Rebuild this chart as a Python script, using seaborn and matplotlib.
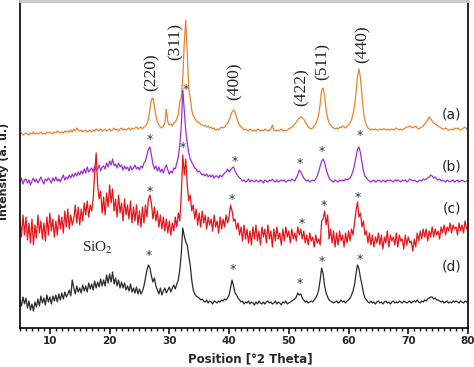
import matplotlib
matplotlib.use("Agg")
import matplotlib.pyplot as plt
import numpy as np
import pandas as pd
import seaborn as sns

# 2-theta grid, 0.25 deg step from 5 to 80
two_theta = [5 + 0.25 * i for i in range(301)]

# intensities (a.u.), relative to each pattern's baseline
intensity_a = [
    -6, -5, -7, -6, -5, -6, -7, -5, -6, -4, -6, -5, -6, -5, -4, -6, -5, -6, -4, -5,
    -4, -5, -6, -4, -5, -3, -4, -5, -4, -5, -3, -4, -3, -4, -2, -4, -1, -3, 0, -2,
    -3, -2, -4, -3, -2, -4, -3, -2, -4, -2, -3, -1, -2, -3, -1, -3, -2, -1, -3, -2,
    -1, -3, -2, 0, -2, -1, -3, -1, 0, -2, -1, -2, -1, 0, -2, 0, -1, 0, 1, -1,
    0, 1, -1, 1, 2, 4, 9, 19, 28, 30, 22, 12, 6, 3, 1, 0, 2, 5, 19, 6,
    3, 4, 2, 5, 6, 9, 14, 26, 30, 50, 85, 108, 75, 40, 30, 18, 12, 10, 7, 6,
    5, 4, 3, 2, 3, 1, 2, 0, 1, -1, 0, -2, -1, -2, 0, 1, 0, 1, 3, 5,
    8, 12, 16, 18, 16, 11, 6, 3, 1, 0, -2, -1, -2, -3, -1, -2, -3, -2, -3, -1,
    -2, -3, -2, -3, -1, -2, -3, -2, -1, 3, -2, -3, -2, -3, -2, -1, -3, -2, -3, -2,
    -1, 0, 1, 2, 4, 6, 8, 10, 11, 10, 9, 6, 4, 1, 0, -1, 0, 2, 4, 8,
    13, 24, 38, 40, 32, 18, 10, 5, 3, 1, 0, -1, 0, -1, 1, 0, 2, 1, 0, 2,
    3, 5, 8, 14, 22, 35, 52, 59, 50, 32, 16, 7, 3, 0, -1, -2, -1, -2, -1, -2,
    -2, -1, -2, -1, -1, -2, -1, -2, -2, -1, -2, -1, 0, -1, -2, -1, -2, -1, 0, 1,
    1, 2, 1, 0, 1, 2, 0, -1, 0, 1, 2, 4, 6, 8, 11, 9, 7, 5, 4, 3,
    2, 1, 0, -1, -1, 0, -1, -2, -2, -1, -2, 0, -1, 0, -1, -2, -1, 0, 1, -1,
    0,
]

intensity_b = [
    -1, 3, -3, 1, 2, -2, 1, -4, 0, 3, -1, 2, -2, 1, 4, 0, -3, 2, 0, 3,
    1, -2, 3, 0, 4, 0, 2, -1, 3, 6, 1, 4, 2, 6, 3, 7, 4, 8, 5, 9,
    6, 10, 7, 12, 8, 14, 9, 11, 13, 9, 15, 11, 12, 16, 10, 14, 15, 12, 18, 14,
    20, 16, 22, 15, 17, 13, 18, 14, 16, 11, 15, 12, 14, 10, 15, 11, 13, 16, 12, 14,
    11, 15, 13, 18, 20, 26, 32, 34, 26, 17, 12, 15, 10, 14, 9, 12, 8, 13, 16, 11,
    7, 10, 8, 13, 12, 18, 24, 36, 55, 91, 70, 50, 38, 28, 22, 19, 16, 13, 12, 9,
    10, 8, 6, 7, 5, 7, 4, 6, 4, 6, 3, 5, 5, 3, 6, 4, 6, 8, 9, 12,
    9, 11, 13, 14, 10, 7, 5, 3, 2, 0, 1, -1, 0, 2, -1, 1, 0, -1, 1, 0,
    -1, 1, 0, -2, 1, 0, -1, 1, 0, 2, 0, -1, 1, -1, 0, 1, 0, 1, -1, 0,
    1, 0, 2, 1, 0, 3, 6, 11, 9, 6, 3, 1, 0, 1, -1, 0, 1, 0, 2, 5,
    9, 15, 20, 22, 18, 12, 7, 3, 1, 0, -1, 1, 0, -1, 1, 0, 1, 0, 2, 1,
    2, 3, 6, 10, 16, 24, 32, 34, 28, 18, 10, 5, 3, 1, 0, -1, 0, 1, -1, 0,
    1, 0, -1, 1, 0, -1, 1, 0, 1, 0, -1, 1, 0, 1, 0, -1, 1, 0, 1, -1,
    0, 2, 1, 0, 1, 0, -1, 0, 1, 0, 2, 1, 2, 3, 4, 6, 5, 3, 4, 2,
    1, 2, 0, 1, 0, -1, 1, 0, -1, 0, 1, -1, 0, 1, -1, 0, 1, 0, -1, 0,
    0,
]

intensity_c = [
    15, -2, 20, 0, 18, -5, 12, -8, 16, -10, 10, -3, 20, 2, 14, -4, 12, -6, 18, 0,
    22, 4, 16, -2, 14, 0, 20, 6, 18, 2, 24, 8, 26, 6, 20, 10, 16, 30, 12, 28,
    10, 26, 14, 32, 20, 34, 18, 30, 24, 36, 62, 82, 50, 36, 44, 22, 38, 20, 42, 28,
    50, 32, 46, 24, 36, 18, 40, 22, 32, 14, 36, 20, 30, 16, 34, 12, 28, 14, 30, 10,
    24, 8, 28, 12, 30, 18, 36, 40, 32, 16, 28, 14, 24, 8, 20, 6, 18, 4, 16, 2,
    14, 0, 12, 4, 18, 8, 22, 14, 40, 80, 60, 76, 50, 34, 40, 24, 30, 16, 26, 10,
    22, 8, 24, 12, 20, 6, 18, 10, 16, 4, 20, 8, 14, 2, 18, 6, 16, 8, 20, 12,
    18, 30, 24, 14, 16, 6, 12, 0, 8, -6, 10, -4, 6, -8, 4, -10, 8, -4, 10, -6,
    4, -10, 8, -2, 6, -8, 10, -4, 4, -12, 6, -6, 8, -4, 2, -10, 6, -6, 8, -2,
    4, -8, 6, -4, 2, -6, 8, 0, 6, -4, 4, -8, 0, -10, 2, -6, -2, -12, 0, -8,
    -4, -10, 14, 16, 24, 10, 20, -4, 6, -8, 4, -12, 2, -10, 4, -6, 0, -12, 2, -8,
    4, -6, 6, 0, 12, 24, 33, 18, 22, 8, 14, 0, 4, -8, 2, -10, 0, -12, -2, -8,
    2, -10, 0, -14, -2, -8, 4, -12, 0, -6, -2, -10, 2, -12, 0, -6, -4, -14, 0, -10,
    -2, -8, -6, -16, -4, -12, 2, -6, 4, -4, 6, -2, 6, -6, 4, -2, 8, -2, 6, 0,
    4, -4, 8, 2, 10, 0, 8, 4, 12, 2, 10, 6, 8, 0, 12, 4, 10, 2, 14, 6,
    8,
]

intensity_d = [
    2, -4, 5, -2, 4, -6, 1, -8, -2, -9, 0, -5, 3, -4, 6, -1, 4, -3, 7, 0,
    5, -2, 6, 1, 7, 0, 8, 2, 9, 3, 10, 5, 8, 12, 6, 22, 14, 8, 16, 10,
    14, 9, 17, 11, 16, 10, 19, 13, 18, 12, 21, 14, 20, 15, 23, 16, 22, 16, 27, 19,
    28, 20, 30, 18, 24, 16, 22, 14, 20, 14, 19, 12, 16, 11, 18, 10, 14, 9, 15, 8,
    13, 8, 11, 16, 24, 32, 37, 34, 26, 20, 24, 16, 12, 8, 14, 7, 11, 14, 9, 12,
    15, 10, 14, 17, 13, 18, 22, 32, 48, 74, 66, 60, 57, 46, 37, 22, 12, 8, 6, 5,
    4, 2, 3, 1, 0, 2, -1, 1, 0, -2, 1, 0, -1, 1, 0, 2, 1, 3, 2, 4,
    7, 14, 22, 16, 9, 7, 4, 2, 0, 1, -2, 0, -1, 1, -2, 0, -1, -3, 0, -2,
    1, -1, -2, 0, -2, 0, 1, -1, 0, -2, -1, 1, -2, 0, -1, -3, 0, -1, 1, -2,
    -1, 0, 1, 2, 3, 5, 9, 7, 8, 4, 2, 0, 1, -1, 0, 1, 0, 2, 4, 7,
    12, 22, 34, 28, 16, 9, 5, 2, 1, 0, -1, 0, 1, -1, 0, 2, 0, 1, -1, 1,
    2, 4, 7, 11, 17, 28, 37, 33, 24, 17, 9, 4, 2, 0, -1, 1, -1, 0, -2, 0,
    1, -1, 0, -2, 0, 1, -1, 0, -2, 0, 1, -1, 0, -1, 1, 0, -1, 1, 0, -1,
    0, 1, -1, 0, 1, 0, 2, 0, -1, 1, 0, 2, 1, 3, 4, 5, 5, 3, 4, 2,
    2, 1, 0, 1, -1, 0, 1, -1, 0, -1, 1, 0, 1, 0, -1, 1, 0, -1, 1, 0,
    0,
]

samples = ["(a)", "(b)", "(c)", "(d)"]
offsets = [200, 147, 93, 26]
colors = ["#e8842e", "#9b2fd6", "#e3161b", "#2b2b2b"]

hkl_labels = ["(220)", "(311)", "(400)", "(422)", "(511)", "(440)"]
hkl_pos = [(27.1, 256), (31.0, 286), (41.0, 247), (52.2, 241), (55.7, 266), (62.3, 284)]

star_pos = [
    (32.8, 240),
    (26.8, 191), (32.2, 183), (40.9, 169), (51.9, 167), (55.6, 178), (61.8, 195),
    (26.8, 138), (40.5, 131), (52.2, 106), (55.8, 124), (61.6, 133),
    (26.5, 74), (40.6, 60), (51.8, 46), (55.6, 68), (61.8, 71),
]

frames = []
for name, vals, off in zip(samples, [intensity_a, intensity_b, intensity_c, intensity_d], offsets):
    assert len(vals) == len(two_theta)
    frames.append(pd.DataFrame({"two_theta": two_theta,
                                "shifted": np.array(vals) + off,
                                "sample": name}))
df = pd.concat(frames, ignore_index=True)

sns.set_theme(style="ticks")
plt.rcParams["font.family"] = ["DejaVu Sans"]
plt.rcParams["font.serif"] = ["Liberation Serif", "DejaVu Serif"]
plt.rcParams["mathtext.fontset"] = "stix"

fig = plt.figure(figsize=(4.74, 3.67), dpi=100)
ax = fig.add_axes([20 / 474, 39 / 367, 448 / 474, 327 / 367])

sns.lineplot(data=df, x="two_theta", y="shifted", hue="sample", palette=colors,
             linewidth=0.9, legend=False, estimator=None, sort=False, ax=ax)

ax.set_xlim(5, 80)
ax.set_ylim(0, 327)
ax.set_yticks([])
ax.set_xticks(range(10, 81, 10))
ax.set_xticks(range(5, 81), minor=True)
ax.tick_params(axis="x", which="major", direction="out", length=4, width=1.1,
               labelsize=7.5, pad=2, color="black")
ax.tick_params(axis="x", which="minor", direction="out", length=2.5, width=1.0, color="black")
for lab in ax.get_xticklabels():
    lab.set_fontweight("bold")

for side in ["left", "bottom", "right"]:
    ax.spines[side].set_color("black")
    ax.spines[side].set_linewidth(1.2)
ax.spines["top"].set_color("#c8c8c8")
ax.spines["top"].set_linewidth(2)

ax.set_xlabel("Position [°2 Theta]", fontsize=8.5, fontweight="bold")
ax.set_ylabel("Intensity (a. u.)", fontsize=8, fontweight="bold")
ax.xaxis.set_label_coords(0.513, -0.075)
ax.yaxis.set_label_coords(-0.024, 0.48)

for text, (x, y) in zip(hkl_labels, hkl_pos):
    ax.text(x, y, text, rotation=90, ha="center", va="center",
            fontsize=12.5, family="serif")

label_y = [214, 162, 119, 61]
for name, y in zip(samples, label_y):
    ax.text(77.3, y, name, ha="center", va="center", fontsize=10)

for x, y in star_pos:
    ax.text(x, y - 2, "*", ha="center", va="center", fontsize=9, color="#333333")

ax.text(17.9, 80, "SiO$_2$", ha="center", va="center", fontsize=11, family="serif")

fig.savefig("out.png", dpi=100)
